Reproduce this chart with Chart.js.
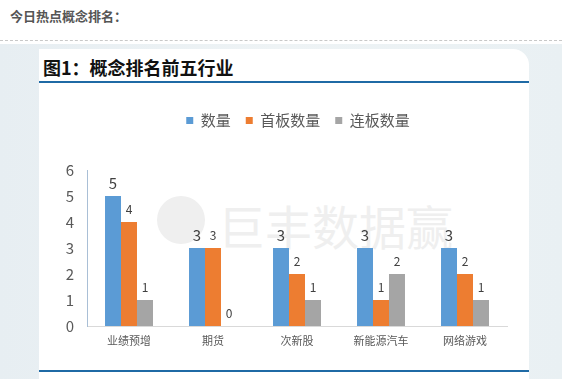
<!DOCTYPE html>
<html>
<head>
<meta charset="utf-8">
<script src="https://cdn.jsdelivr.net/npm/chart.js@4.4.0/dist/chart.umd.min.js"></script>
<style>
  body { margin: 0; width: 562px; height: 379px; overflow: hidden; background: #fff; font-family: "Noto Sans CJK SC", sans-serif; position: relative; }
  .head { position: absolute; left: 10px; top: 6px; font-size: 13px; font-weight: bold; color: #555; }
  .dash { position: absolute; left: 0; top: 40px; width: 562px; border-top: 1px dashed #c8c8c8; }
  .bg { position: absolute; left: 0; top: 44px; width: 562px; height: 335px; background: linear-gradient(90deg, #e7eef2, #eef3f5 50%, #e9f0f3); }
  .card { position: absolute; left: 39px; top: 49px; width: 490px; height: 340px; background: #fff; border-top-right-radius: 16px; }
  .title { position: absolute; left: 4px; top: 5px; font-size: 18px; font-weight: bold; color: #111; }
  .line1 { position: absolute; left: 0; top: 32px; width: 490px; height: 2px; background: #1f6aa5; }
  .line2 { position: absolute; left: 0; top: 321px; width: 490px; height: 2px; background: #1f6aa5; }
  .wm { position: absolute; left: 179px; top: 141px; font-size: 47px; color: #efefef; white-space: nowrap; }
  .logo { position: absolute; left: 118px; top: 147px; width: 48px; height: 48px; border-radius: 50%; background: #efefef; }
  .chartbox { position: absolute; left: 0; top: 35px; width: 490px; height: 284px; }
</style>
</head>
<body>
<div class="head">今日热点概念排名：</div>
<div class="dash"></div>
<div class="bg"></div>
<div class="card">
  <div class="title">图1：概念排名前五行业</div>
  <div class="line1"></div>
  <div class="logo"></div>
  <div class="wm">巨丰数据赢</div>
  <div class="chartbox"><canvas id="chart" width="490" height="284"></canvas></div>
  <div class="line2"></div>
</div>
<script>
const categories = ["业绩预增", "期货", "次新股", "新能源汽车", "网络游戏"];
const seriesNames = ["数量", "首板数量", "连板数量"];
const countValues = [5, 3, 3, 3, 3];
const firstBoardValues = [4, 3, 2, 1, 2];
const streakValues = [1, 0, 1, 2, 1];
const yTicks = [0, 1, 2, 3, 4, 5, 6];

const colors = ["#5b9bd5", "#ed7d31", "#a5a5a5"];
const labelSizes = [15, 12, 12];

// value labels above each bar
const valueLabels = {
  id: "valueLabels",
  afterDatasetsDraw(chart) {
    const ctx = chart.ctx;
    ctx.save();
    ctx.fillStyle = "#404040";
    ctx.textAlign = "center";
    ctx.textBaseline = "middle";
    chart.data.datasets.forEach((ds, i) => {
      const meta = chart.getDatasetMeta(i);
      ctx.font = labelSizes[i] + "px 'Noto Sans CJK SC', sans-serif";
      meta.data.forEach((bar, j) => {
        ctx.fillText(String(ds.data[j]), bar.x, bar.y - 13);
      });
    });
    ctx.restore();
  }
};

// legend: fixed height and nudged right like the original
const legendFix = {
  id: "legendFix",
  beforeInit(chart) {
    const fit = chart.legend.fit;
    chart.legend.fit = function () {
      fit.call(this);
      this.height = 72;
    };
  },
  afterLayout(chart) {
    chart.legend.left += 25;
    chart.legend.right += 25;
  }
};

new Chart(document.getElementById("chart"), {
  type: "bar",
  data: {
    labels: categories,
    datasets: [
      { label: seriesNames[0], data: countValues, backgroundColor: colors[0] },
      { label: seriesNames[1], data: firstBoardValues, backgroundColor: colors[1] },
      { label: seriesNames[2], data: streakValues, backgroundColor: colors[2] },
    ],
  },
  options: {
    responsive: false,
    animation: false,
    layout: { padding: { left: 0, right: 22, top: 14, bottom: 0 } },
    datasets: { bar: { categoryPercentage: 0.571, barPercentage: 1 } },
    plugins: {
      tooltip: { enabled: false },
      legend: {
        position: "top",
        labels: {
          boxWidth: 7,
          boxHeight: 7,
          padding: 15,
          color: "#595959",
          font: { size: 15, family: "'Noto Sans CJK SC', sans-serif" },
        },
      },
    },
    scales: {
      x: {
        grid: { display: false, drawTicks: false },
        border: { color: "#d9d9d9" },
        ticks: { color: "#595959", font: { size: 11, family: "'Noto Sans CJK SC', sans-serif" }, padding: 8 },
        afterFit(scale) { scale.height = 42; },
      },
      y: {
        min: 0,
        max: 6,
        afterBuildTicks(scale) { scale.ticks = yTicks.map((v) => ({ value: v })); },
        grid: { display: false, drawTicks: false },
        border: { color: "#a9bfd6" },
        ticks: { color: "#595959", font: { size: 15, family: "'Noto Sans CJK SC', sans-serif" }, padding: 13 },
        afterFit(scale) { scale.width = 48; },
      },
    },
  },
  plugins: [valueLabels, legendFix],
});
</script>
</body>
</html>
